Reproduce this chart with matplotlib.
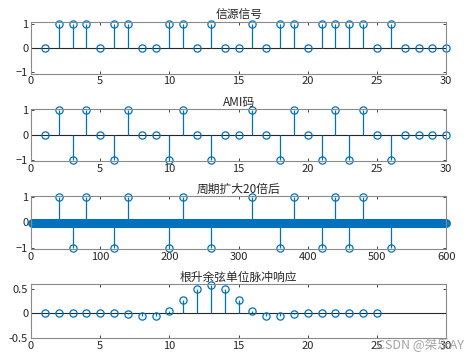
import numpy as np
import matplotlib
matplotlib.use("Agg")
import matplotlib.pyplot as plt

plt.rcParams['font.family'] = ['Noto Sans CJK SC', 'DejaVu Sans']

n_sym = list(range(1, 31))
source = [0, 1, 1, 1, 0, 1, 1, 0, 0, 1, 1, 0, 1, 0, 0, 1, 0, 1, 1, 0,
          1, 1, 1, 1, 0, 1, 0, 0, 0, 0]
ami = [0, 1, -1, 1, 0, -1, 1, 0, 0, -1, 1, 0, -1, 0, 0, 1, 0, -1, 1, 0,
       -1, 1, -1, 1, 0, -1, 0, 0, 0, 0]
upfactor = 20
n_rc = list(range(1, 26))
rrc = [0.01, 0.0, 0.0, 0.0, 0.01, 0.01, -0.01, -0.06, -0.06, 0.05,
       0.28, 0.49, 0.58, 0.49, 0.28, 0.05, -0.06, -0.06, -0.01, 0.01,
       0.01, 0.0, 0.0, 0.0, 0.0]

titles = ['信源信号', 'AMI码', '周期扩大20倍后', '根升余弦单位脉冲响应']

# upsampled sequence
n_up = np.arange(1, len(ami) * upfactor + 1)
up = np.zeros(len(n_up))
for i, v in zip(n_sym, ami):
    up[i * upfactor - 1] = v

blue = '#0072BD'
fig = plt.figure(figsize=(4.74, 3.56), dpi=100)
rects = [(0.0654, 0.793, 0.876, 0.145),
         (0.0654, 0.548, 0.876, 0.146),
         (0.0654, 0.301, 0.876, 0.148),
         (0.0654, 0.051, 0.876, 0.151)]

datasets = [(n_sym, source), (n_sym, ami), (n_up, up), (n_rc, rrc)]
xlims = [(0, 30), (0, 30), (0, 600), (0, 30)]
ylims = [(-1.07, 1.07), (-1.03, 1.03), (-1.03, 1.03), (-0.5, 0.6)]
yticks = [[-1, 0, 1], [-1, 0, 1], [-1, 0, 1], [-0.5, 0, 0.5]]
xticks = [range(0, 31, 5), range(0, 31, 5), range(0, 601, 100), range(0, 31, 5)]

for k in range(4):
    ax = fig.add_axes(rects[k])
    x, y = datasets[k]
    ax.axhline(0, color='#262626', lw=0.8, zorder=1)
    ml, sl, bl = ax.stem(x, y, linefmt='-', markerfmt='o', basefmt=' ')
    plt.setp(sl, color=blue, lw=0.9)
    plt.setp(ml, markerfacecolor='none', markeredgecolor=blue,
             markersize=5.2, markeredgewidth=0.9)
    ml.set_clip_on(False)
    ax.set_xlim(*xlims[k])
    ax.set_ylim(*ylims[k])
    ax.set_xticks(list(xticks[k]))
    ax.set_yticks(yticks[k])
    if k == 3:
        ax.set_yticklabels(['-0.5', '0', '0.5'])
    ax.tick_params(direction='in', length=2.5, width=0.6, labelsize=8,
                   colors='#262626', top=True, right=True, pad=2)
    for s in ax.spines.values():
        s.set_color('#8a8a8a')
        s.set_linewidth(0.8)
    ax.set_title(titles[k], fontsize=8.5, pad=2, color='#262626')

fig.text(0.979, 0.01, 'CSDN @桀乐AY', ha='right', va='bottom',
         fontsize=9, color='#9a9a9a', alpha=0.9)

fig.savefig('out.png', dpi=100)
